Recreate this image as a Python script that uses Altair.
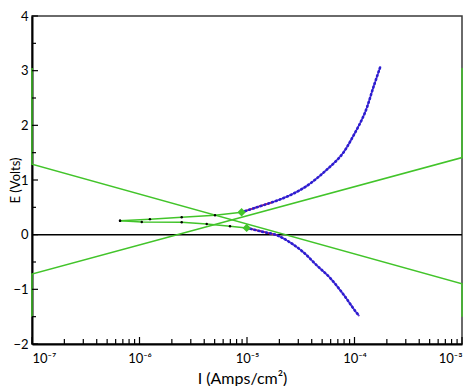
import altair as alt
import pandas as pd
import math

# ---------------- data ----------------
# anodic branch (current A/cm^2, potential V)
anodic_I = [8.91e-6, 1.23e-5, 1.76e-5, 2.51e-5, 3.59e-5, 5.32e-5, 7.59e-5, 9.77e-5, 1.25e-4, 1.50e-4, 1.73e-4]
anodic_E = [0.41, 0.50, 0.60, 0.72, 0.89, 1.16, 1.46, 1.81, 2.23, 2.70, 3.06]
# cathodic branch
cathodic_I = [9.93e-6, 1.35e-5, 1.89e-5, 2.51e-5, 3.34e-5, 4.45e-5, 5.92e-5, 7.87e-5, 1.01e-4, 1.11e-4]
cathodic_E = [0.124, 0.06, -0.01, -0.14, -0.32, -0.56, -0.79, -1.09, -1.39, -1.49]
# number of leading points drawn in red on each branch
anodic_red_n = 3
cathodic_red_n = 3
# low-current loop
loop_upper_I = [6.59e-7, 1.25e-6, 2.47e-6, 5.04e-6, 8.93e-6]
loop_upper_E = [0.254, 0.284, 0.320, 0.355, 0.409]
loop_lower_I = [6.59e-7, 1.05e-6, 2.47e-6, 4.22e-6, 6.95e-6, 9.93e-6]
loop_lower_E = [0.254, 0.231, 0.226, 0.195, 0.155, 0.124]
# Tafel fit lines
tafel_a_I = [1e-7, 1e-7, 1e-3, 1e-3]
tafel_a_E = [3.05, 1.29, -0.90, -1.50]
tafel_b_I = [1e-7, 1e-7, 1e-3, 1e-3]
tafel_b_E = [-1.50, -0.72, 1.41, 3.05]
# start markers
marker_I = [8.91e-6, 9.93e-6]
marker_E = [0.41, 0.124]
# reference line
zero_E = [0]
# axis ticks / labels
x_decades = [1e-7, 1e-6, 1e-5, 1e-4, 1e-3]
x_labels = ["10⁻⁷", "10⁻⁶", "10⁻⁵", "10⁻⁴", "10⁻³"]
x_minor = [k * d for d in [1e-7, 1e-6, 1e-5, 1e-4] for k in range(2, 10)]
y_major = [-2, -1, 0, 1, 2, 3, 4]
y_minor = [-1.5, -0.5, 0.5, 1.5, 2.5, 3.5]

# ---------------- chart ----------------
W, H = 430, 328
GREEN = "#42c42a"
BLUE = "#2c1ed0"
PURPLE = "#6a40d8"
RED = "#e8203c"

xs = alt.Scale(type="log", domain=[1e-7, 1e-3], nice=False)
ys = alt.Scale(domain=[-2, 4], nice=False, zero=False)

expr = "''"
for v, lab in reversed(list(zip(x_decades, x_labels))):
    expr = f"(abs(log(datum.value)/LN10 - ({round(math.log10(v))})) < 0.01 ? '{lab}' : {expr})"

x_axis = alt.Axis(values=x_decades, labelExpr=expr, title="I (Amps/cm²)",
                  labelPadding=8, titleX=210, titleY=39, titleBaseline="alphabetic")
y_axis = alt.Axis(values=y_major, format="d", title="E (Volts)", labelPadding=4,
                  labelOverlap=False,
                  titleX=-13, titleY=164, titleBaseline="alphabetic", titleFontSize=13)

X = alt.X("I:Q", scale=xs, axis=x_axis)
Y = alt.Y("E:Q", scale=ys, axis=y_axis)

def df(I, E, **extra):
    d = pd.DataFrame({"I": I, "E": E})
    d["o"] = range(len(d))
    for k, v in extra.items():
        d[k] = v
    return d

zero = alt.Chart(pd.DataFrame({"E": zero_E})).mark_rule(color="black", strokeWidth=1.5).encode(y=Y)

tafel = pd.concat([df(tafel_a_I, tafel_a_E, s="a"), df(tafel_b_I, tafel_b_E, s="b")])
tafel_l = alt.Chart(tafel).mark_line(color=GREEN, strokeWidth=1.5).encode(
    x=X, y=Y, detail="s:N", order="o:Q")

loop = pd.concat([df(loop_upper_I, loop_upper_E, s="u"), df(loop_lower_I, loop_lower_E, s="l")])
loop_l = alt.Chart(loop).mark_line(color=GREEN, strokeWidth=1.5).encode(
    x=X, y=Y, detail="s:N", order="o:Q")
loop_p = alt.Chart(loop).mark_circle(color="black", size=6, opacity=1).encode(x=X, y=Y)

branches = pd.concat([df(anodic_I, anodic_E, s="an"), df(cathodic_I, cathodic_E, s="ca")])
blue_l = alt.Chart(branches).mark_line(color=PURPLE, strokeWidth=1.6, interpolate="catmull-rom").encode(
    x=X, y=Y, detail="s:N", order="o:Q")
blue_d = alt.Chart(branches).mark_line(color=BLUE, strokeWidth=2.6, strokeDash=[1, 3],
                                       strokeCap="round", interpolate="catmull-rom").encode(
    x=X, y=Y, detail="s:N", order="o:Q")
reds = pd.concat([df(anodic_I[:anodic_red_n], anodic_E[:anodic_red_n], s="an"),
                  df(cathodic_I[:cathodic_red_n], cathodic_E[:cathodic_red_n], s="ca")])
red_l = alt.Chart(reds).mark_line(color=RED, strokeWidth=1.6, interpolate="catmull-rom").encode(
    x=X, y=Y, detail="s:N", order="o:Q")

markers = alt.Chart(df(marker_I, marker_E)).mark_point(
    shape="diamond", filled=True, color=GREEN, size=70, opacity=1).encode(x=X, y=Y)

xt_major = alt.Chart(pd.DataFrame({"I": x_decades})).mark_rule(color="black", strokeWidth=1.2).encode(
    x=X, y=alt.value(H), y2=alt.value(H - 7))
xt_minor = alt.Chart(pd.DataFrame({"I": x_minor})).mark_rule(color="black", strokeWidth=1.2).encode(
    x=X, y=alt.value(H), y2=alt.value(H - 5))
yt_major = alt.Chart(pd.DataFrame({"E": y_major})).mark_rule(color="black", strokeWidth=1.2).encode(
    y=Y, x=alt.value(0), x2=alt.value(6))
yt_minor = alt.Chart(pd.DataFrame({"E": y_minor})).mark_rule(color="black", strokeWidth=1.2).encode(
    y=Y, x=alt.value(0), x2=alt.value(4))

chart = alt.layer(
    zero, tafel_l, loop_l, loop_p, blue_l, red_l, blue_d, markers,
    xt_major, xt_minor, yt_major, yt_minor
).properties(
    width=W, height=H,
    autosize=alt.AutoSizeParams(type="none"),
    padding={"left": 24, "top": 8, "right": 4, "bottom": 42},
).configure_view(
    stroke="#3a3a3a", strokeWidth=1.5
).configure_axis(
    domainColor="black", domainWidth=2, grid=False, ticks=False,
    labelFont="Lato", labelFontSize=13, labelColor="black",
    titleFont="Lato", titleFontSize=16, titleFontWeight="normal", titleColor="black",
)

chart.save("out.html", embed_options={"renderer": "svg", "actions": False})
